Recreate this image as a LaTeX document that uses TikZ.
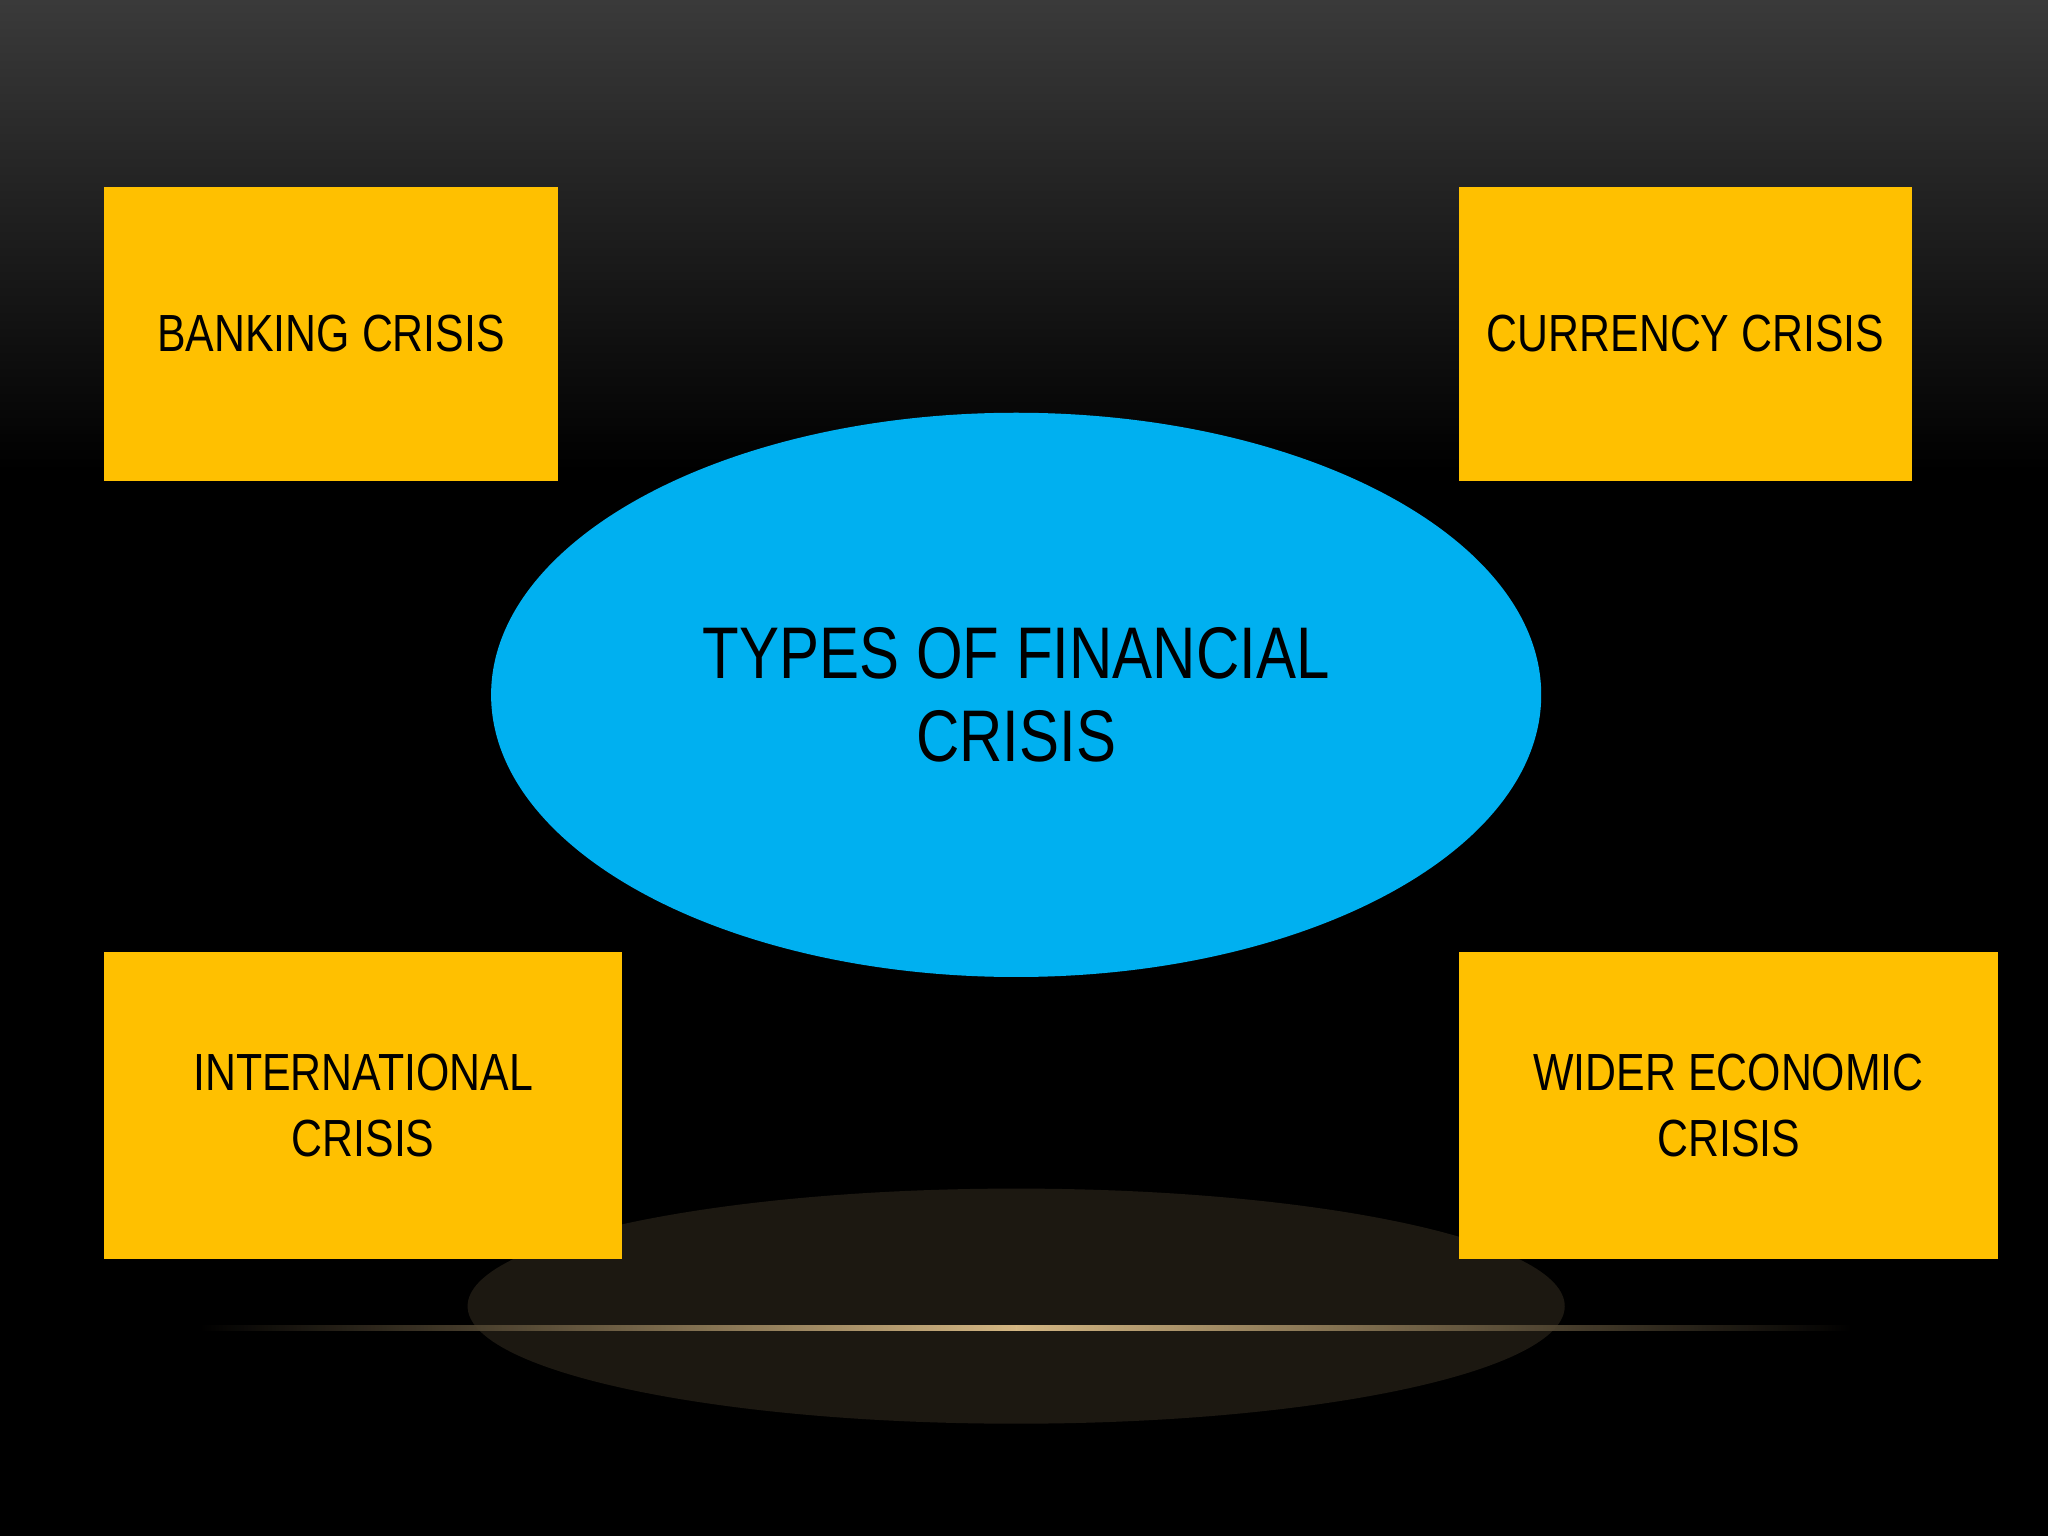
\documentclass[tikz,border=0pt]{standalone}
\usepackage{fontspec}
\setmainfont[FakeStretch=0.82]{Liberation Sans}
\usetikzlibrary{shapes.geometric}
\definecolor{boxy}{HTML}{FFC000}
\definecolor{ellb}{HTML}{00B0F0}
\definecolor{topg}{HTML}{3A3A3A}
\definecolor{glow}{HTML}{E8C890}
\tikzset{
 cbox/.style={fill=boxy,draw=none,align=center,font=\fontsize{40}{50}\selectfont,text=black},
}
\begin{document}
\begin{tikzpicture}[x=1pt,y=-1pt]
\useasboundingbox (0,0) rectangle (1568,1176);
\fill[black] (0,0) rectangle (1568,1176);
\shade[top color=topg,bottom color=black] (0,0) rectangle (1568,360);
\fill[glow,opacity=0.12] (778,1000) ellipse (420 and 90);
\shade[left color=black,right color=glow,opacity=0.9] (150,1015) rectangle (778,1019);
\shade[left color=glow,right color=black,opacity=0.9] (778,1015) rectangle (1420,1019);
\node[cbox,minimum width=347,minimum height=225] (bank) at (253.5,255.5) {BANKING CRISIS};
\node[cbox,minimum width=347,minimum height=225] (curr) at (1290.5,255.5) {CURRENCY CRISIS};
\node[cbox,minimum width=396,minimum height=235] (intl) at (278,846.5) {INTERNATIONAL\\CRISIS};
\node[cbox,minimum width=413,minimum height=235] (wide) at (1323.5,846.5) {WIDER ECONOMIC\\CRISIS};
\node[ellipse,fill=ellb,minimum width=804,minimum height=432,inner sep=0,align=center,font=\fontsize{56}{64}\selectfont] (main) at (778,532) {TYPES OF FINANCIAL\\CRISIS};
\end{tikzpicture}
\end{document}
